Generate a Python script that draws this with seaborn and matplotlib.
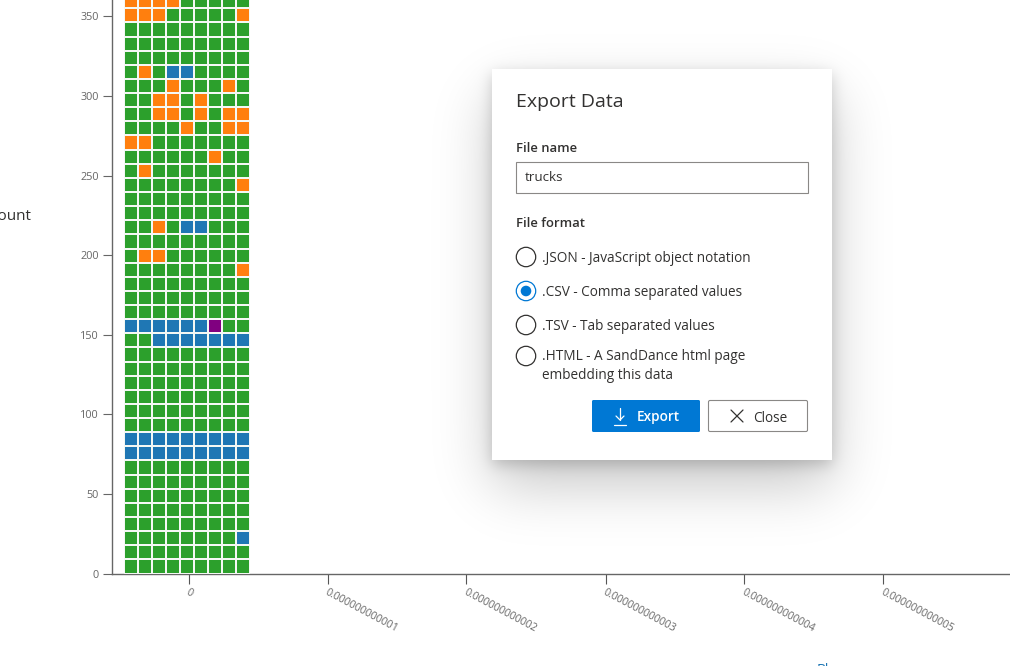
# Export dialog over a SandDance grid of count cells
import math

import matplotlib
matplotlib.use('Agg')
import matplotlib.pyplot as plt
import numpy as np
import seaborn as sns
from matplotlib.colors import ListedColormap
from matplotlib.patches import Circle, FancyBboxPatch, Rectangle

# cell codes, top row first: G green, O orange, B blue, P purple
grid_rows = [
    'OOOOGGGGG',
    'OOOGGGGGO',
    'GGGGGGGGG',
    'GGGGGGGGG',
    'GGGGGGGGG',
    'GOGBBGGGG',
    'GGGOGGGOG',
    'GGOOGOGGG',
    'GGOOGOGOO',
    'GGGGOGGOO',
    'OOGGGGGGG',
    'GGGGGGOGG',
    'GOGGGGGGG',
    'GGGGGGGGO',
    'GGGGGGGGG',
    'GGGGGGGGG',
    'GGOGBBGGG',
    'GGGGGGGGG',
    'GOOGGGGGG',
    'GGGGGGGGO',
    'GGGGGGGGG',
    'GGGGGGGGG',
    'GGGGGGGGG',
    'BBBBBBPGG',
    'GGBBBBBBB',
    'GGGGGGGGG',
    'GGGGGGGGG',
    'GGGGGGGGG',
    'GGGGGGGGG',
    'GGGGGGGGG',
    'GGGGGGGGG',
    'BBBBBBBBB',
    'BBBBBBBBB',
    'GGGGGGGGG',
    'GGGGGGGGG',
    'GGGGGGGGG',
    'GGGGGGGGG',
    'GGGGGGGGG',
    'GGGGGGGGB',
    'GGGGGGGGG',
    'GGGGGGGGG',
]
cell_codes = 'BOGP'
cell_colors = ['#1f77b4', '#ff7f0e', '#2ca02c', '#800080']

count_ticks = [0, 50, 100, 150, 200, 250, 300, 350]
value_ticks = [0, 1e-12, 2e-12, 3e-12, 4e-12, 5e-12]
value_labels = ['0', '0.000000000001', '0.000000000002', '0.000000000003',
                '0.000000000004', '0.000000000005']

format_options = ['.JSON - JavaScript object notation',
                  '.CSV - Comma separated values',
                  '.TSV - Tab separated values',
                  '.HTML - A SandDance html page\nembedding this data']
selected_format = 1

W, H = 1010, 666
sns.set_theme(style='white')
plt.rcParams['font.family'] = ['Open Sans', 'DejaVu Sans']

matrix = np.array([[cell_codes.index(c) for c in row] for row in grid_rows])

fig = plt.figure(figsize=(W / 100, H / 100), dpi=100)

# main axes: pixel box
ax = fig.add_axes([111.5 / W, (H - 573.5) / H, (W - 111.5) / W, 573.5 / H])
ax.set_ylim(0, 573.5 / 1.592)
x_per_px = 1e-12 / 139.0
ax.set_xlim(-(188.5 - 111.5) * x_per_px, (W - 188.5) * x_per_px)
ax.set_yticks(count_ticks)
ax.set_xticks(value_ticks)
ax.set_xticklabels([])
ax.tick_params(axis='y', length=6.5, width=0.8, color='#666666', labelcolor='#666666',
               labelsize=7.8, pad=2.5, left=True)
ax.tick_params(axis='x', length=7, width=0.8, color='#555555', bottom=True)
for side in ['top', 'right']:
    ax.spines[side].set_visible(False)
for side in ['left', 'bottom']:
    ax.spines[side].set_color('#666666')
    ax.spines[side].set_linewidth(1.0)

# rotated value labels
for tick, label in zip(value_ticks, value_labels):
    ax.annotate(label, xy=(tick, 0), xytext=(0.2, -10), textcoords='offset points',
                rotation=-28, rotation_mode='anchor', ha='left', va='top',
                fontsize=7.6, color='#666666', annotation_clip=False)

# the cell grid, sized in the count and value units of the main axes
row_h = 14.13 / 1.592
cell_ax = ax.inset_axes([-(188.5 - 124.3) * x_per_px, 0, 125.4 * x_per_px, row_h * len(grid_rows)],
                        transform=ax.transData)
sns.heatmap(matrix, ax=cell_ax, cmap=ListedColormap(cell_colors), vmin=-0.5, vmax=3.5,
            cbar=False, linewidths=0.2, linecolor='#f4f8f4', xticklabels=False, yticklabels=False)
cell_ax.axis('off')

# overlay in screen pixels for the dialog and cut-off texts
ui = fig.add_axes([0, 0, 1, 1], zorder=5)
ui.set_xlim(0, W)
ui.set_ylim(H, 0)
ui.axis('off')
ui.patch.set_alpha(0)

ui.text(31, 217, 'Count', ha='right', va='center', fontsize=11, color='#323130')
ui.text(823, 670, 'Bl', ha='center', va='center', fontsize=10, color='#1f77b4', clip_on=True)


def box_shadow(dy, blur, opacity):
    # same idea as a css box-shadow, a blurred rectangle
    sigma = blur / 2.0
    erf = np.vectorize(math.erf)
    xs = np.arange(W) + 0.5
    ys = np.arange(H) + 0.5
    cover_x = 0.5 * (erf((xs - 492) / (sigma * 2 ** 0.5)) - erf((xs - 832) / (sigma * 2 ** 0.5)))
    cover_y = 0.5 * (erf((ys - 69 - dy) / (sigma * 2 ** 0.5)) - erf((ys - 460 - dy) / (sigma * 2 ** 0.5)))
    return opacity * np.outer(cover_y, cover_x)


shade = 1 - (1 - box_shadow(25.6, 57.6, 0.22)) * (1 - box_shadow(4.8, 14.4, 0.18))
rgba = np.zeros((H, W, 4))
rgba[..., 3] = shade
ui.imshow(rgba, extent=(0, W, H, 0), aspect='auto', interpolation='nearest', zorder=0)
ui.set_xlim(0, W)
ui.set_ylim(H, 0)

ui.add_patch(Rectangle((492, 69), 340, 391, fc='white', ec='none'))

ink = '#323130'
ui.text(516, 102, 'Export Data', ha='left', va='center', fontsize=14, color=ink, fontweight='medium')
ui.text(516, 148.5, 'File name', ha='left', va='center', fontsize=9.4, color=ink, fontweight='semibold')
ui.add_patch(Rectangle((516, 161.5), 291.5, 31, fc='white', ec='#8a8886', lw=0.8))
ui.text(525, 177.5, 'trucks', ha='left', va='center', fontsize=9.6, color=ink)
ui.text(516, 223.5, 'File format', ha='left', va='center', fontsize=9.4, color=ink, fontweight='semibold')

radio_y = [257, 291, 325, 356]
for i, (option, y) in enumerate(zip(format_options, radio_y)):
    on = i == selected_format
    ui.add_patch(Circle((526, y), 9.7, fc='white', ec='#0078d4' if on else '#323130', lw=0.9))
    if on:
        ui.add_patch(Circle((526, y), 5.3, fc='#0078d4', ec='none'))
    ui.text(542, y - 6.5, option, ha='left', va='top', fontsize=9.8, color=ink, linespacing=1.3)

# buttons
ui.add_patch(FancyBboxPatch((592, 400), 108, 32, boxstyle='round,pad=0,rounding_size=1.5',
                            fc='#0078d4', ec='none'))
ui.text(637, 417, 'Export', ha='left', va='center', fontsize=9.8, color='white', fontweight='semibold')
ui.plot([620, 620], [408, 420], color='white', lw=0.9)
ui.plot([616, 620, 624], [416, 420, 416], color='white', lw=0.9)
ui.plot([614, 626], [425, 425], color='white', lw=0.9)
ui.add_patch(FancyBboxPatch((708.5, 400.5), 99, 31, boxstyle='round,pad=0,rounding_size=1.5',
                            fc='white', ec='#8a8886', lw=0.8))
ui.text(753, 418, 'Close', ha='left', va='center', fontsize=9.8, color=ink, fontweight='medium')
ui.plot([731, 743], [410, 422], color=ink, lw=0.9)
ui.plot([731, 743], [422, 410], color=ink, lw=0.9)

fig.savefig('out.png', dpi=100, facecolor='white')
